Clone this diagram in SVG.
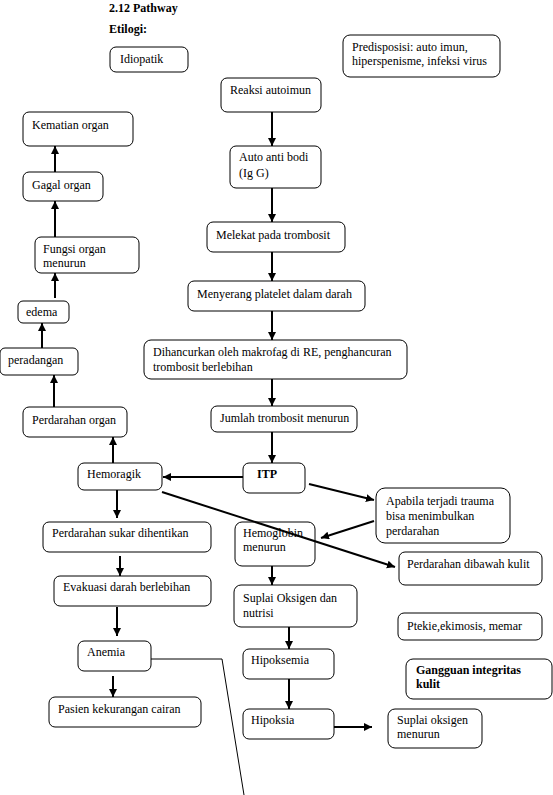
<svg xmlns="http://www.w3.org/2000/svg" width="553" height="795" viewBox="0 0 553 795">
<style>
rect{fill:#fff;stroke:#000;stroke-width:1}
text{font-family:"Liberation Serif","Times New Roman",serif;font-size:12px;fill:#000}
.b{font-weight:bold}
.c{stroke:#000;stroke-width:2;fill:none}
.t{stroke:#000;stroke-width:1;fill:none}
</style>
<defs>
<marker id="ah" markerUnits="userSpaceOnUse" markerWidth="10" markerHeight="10" refX="8" refY="4" orient="auto">
<path d="M0,0 L8,4 L0,8 Z" fill="#000"/>
</marker>
</defs>
<rect x="0" y="0" width="553" height="795" style="stroke:none"/>
<text class="b" x="109" y="12">2.12 Pathway</text>
<text class="b" x="109" y="33">Etilogi:</text>

<g id="idiopatik"><rect x="110" y="47" width="78" height="25" rx="6"/><text x="120" y="63">Idiopatik</text></g>
<g id="predisposisi"><rect x="343" y="35" width="157" height="42" rx="7"/><text x="352" y="51">Predisposisi: auto imun,</text><text x="352" y="65">hiperspenisme, infeksi virus</text></g>
<g id="reaksi"><rect x="221" y="78" width="100" height="34" rx="6"/><text x="230" y="94">Reaksi autoimun</text></g>
<g id="kematian"><rect x="23" y="112" width="110" height="34" rx="6"/><text x="32" y="129">Kematian organ</text></g>
<g id="gagal"><rect x="23" y="172" width="80" height="29" rx="6"/><text x="32" y="189">Gagal organ</text></g>
<g id="fungsi"><rect x="35" y="237" width="104" height="36" rx="6"/><text x="43" y="253">Fungsi organ</text><text x="43" y="267">menurun</text></g>
<g id="edema"><rect x="18" y="301" width="51" height="22" rx="5"/><text x="26" y="316">edema</text></g>
<g id="peradangan"><rect x="0" y="348" width="78" height="27" rx="5"/><text x="8" y="364">peradangan</text></g>
<g id="perdarahan-organ"><rect x="23" y="407" width="104" height="30" rx="6"/><text x="32" y="424">Perdarahan organ</text></g>
<g id="hemoragik"><rect x="78" y="463" width="84" height="27" rx="6"/><text x="87" y="478">Hemoragik</text></g>
<g id="autoantibodi"><rect x="230" y="146" width="91" height="42" rx="6"/><text x="239" y="161">Auto anti bodi</text><text x="239" y="177">(Ig G)</text></g>
<g id="melekat"><rect x="207" y="222" width="138" height="30" rx="6"/><text x="216" y="239">Melekat pada trombosit</text></g>
<g id="menyerang"><rect x="188" y="281" width="177" height="30" rx="6"/><text x="197" y="298">Menyerang platelet dalam darah</text></g>
<g id="dihancurkan"><rect x="144" y="340" width="263" height="39" rx="7"/><text x="153" y="356">Dihancurkan oleh makrofag di RE, penghancuran</text><text x="153" y="371">trombosit berlebihan</text></g>
<g id="jumlah"><rect x="211" y="406" width="146" height="26" rx="6"/><text x="220" y="422">Jumlah trombosit menurun</text></g>
<g id="itp"><rect x="243" y="463" width="62" height="30" rx="6"/><text class="b" x="257" y="478">ITP</text></g>
<g id="apabila"><rect x="376" y="488" width="134" height="55" rx="9"/><text x="386" y="505">Apabila terjadi trauma</text><text x="386" y="520">bisa menimbulkan</text><text x="386" y="535">perdarahan</text></g>
<g id="hemoglobin"><rect x="235" y="522" width="80" height="44" rx="7"/><text x="243" y="537">Hemoglobin</text><text x="243" y="551">menurun</text></g>
<g id="dibawah-kulit"><rect x="399" y="552" width="143" height="33" rx="6"/><text x="407" y="568">Perdarahan dibawah kulit</text></g>
<g id="sukar"><rect x="43" y="522" width="168" height="30" rx="6"/><text x="52" y="537">Perdarahan sukar dihentikan</text></g>
<g id="evakuasi"><rect x="54" y="576" width="157" height="30" rx="6"/><text x="63" y="591">Evakuasi darah berlebihan</text></g>
<g id="suplai-nutrisi"><rect x="234" y="585" width="123" height="42" rx="7"/><text x="243" y="602">Suplai Oksigen dan</text><text x="243" y="617">nutrisi</text></g>
<g id="ptekie"><rect x="398" y="613" width="144" height="27" rx="6"/><text x="407" y="630">Ptekie,ekimosis, memar</text></g>
<g id="anemia"><rect x="78" y="641" width="73" height="30" rx="6"/><text x="87" y="656">Anemia</text></g>
<g id="hipoksemia"><rect x="243" y="649" width="91" height="30" rx="6"/><text x="251" y="664">Hipoksemia</text></g>
<g id="gangguan"><rect x="406" y="659" width="146" height="40" rx="7"/><text class="b" x="416" y="674">Gangguan integritas</text><text class="b" x="416" y="688">kulit</text></g>
<g id="pasien"><rect x="49" y="697" width="152" height="30" rx="6"/><text x="58" y="713">Pasien kekurangan cairan</text></g>
<g id="hipoksia"><rect x="243" y="709" width="91" height="30" rx="6"/><text x="251" y="724">Hipoksia</text></g>
<g id="suplai-menurun"><rect x="388" y="709" width="94" height="39" rx="7"/><text x="397" y="724">Suplai oksigen</text><text x="397" y="738">menurun</text></g>

<g id="connectors">
<line class="c" x1="272" y1="112" x2="272" y2="146" marker-end="url(#ah)"/>
<line class="c" x1="272" y1="188" x2="272" y2="222" marker-end="url(#ah)"/>
<line class="c" x1="272" y1="252" x2="272" y2="281" marker-end="url(#ah)"/>
<line class="c" x1="272" y1="311" x2="272" y2="340" marker-end="url(#ah)"/>
<line class="c" x1="272" y1="379" x2="272" y2="406" marker-end="url(#ah)"/>
<line class="c" x1="272" y1="432" x2="272" y2="463" marker-end="url(#ah)"/>
<line class="c" x1="243" y1="477" x2="163" y2="477" marker-end="url(#ah)"/>
<line class="c" x1="113" y1="463" x2="113" y2="437" marker-end="url(#ah)"/>
<line class="c" x1="54" y1="407" x2="54" y2="375" marker-end="url(#ah)"/>
<line class="c" x1="42" y1="348" x2="42" y2="323" marker-end="url(#ah)"/>
<line class="c" x1="55" y1="298" x2="55" y2="273" marker-end="url(#ah)"/>
<line class="c" x1="55" y1="237" x2="55" y2="201" marker-end="url(#ah)"/>
<line class="c" x1="55" y1="172" x2="55" y2="146" marker-end="url(#ah)"/>
<line class="c" x1="117" y1="490" x2="117" y2="518" marker-end="url(#ah)"/>
<line class="c" x1="120" y1="556" x2="120" y2="576" marker-end="url(#ah)"/>
<line class="c" x1="117" y1="607" x2="117" y2="636" marker-end="url(#ah)"/>
<line class="c" x1="113" y1="676" x2="113" y2="697" marker-end="url(#ah)"/>
<line class="c" x1="309" y1="484" x2="374" y2="500" marker-end="url(#ah)"/>
<line class="c" x1="374" y1="521" x2="321" y2="538" marker-end="url(#ah)"/>
<line class="c" x1="162" y1="492" x2="395" y2="567" marker-end="url(#ah)"/>
<line class="c" x1="272" y1="566" x2="272" y2="585" marker-end="url(#ah)"/>
<line class="c" x1="289" y1="627" x2="289" y2="649" marker-end="url(#ah)"/>
<line class="c" x1="289" y1="679" x2="289" y2="709" marker-end="url(#ah)"/>
<line class="c" x1="334" y1="727" x2="372" y2="727" marker-end="url(#ah)"/>
<polyline class="t" points="151,659 222,659 244,795"/>
</g>
</svg>
